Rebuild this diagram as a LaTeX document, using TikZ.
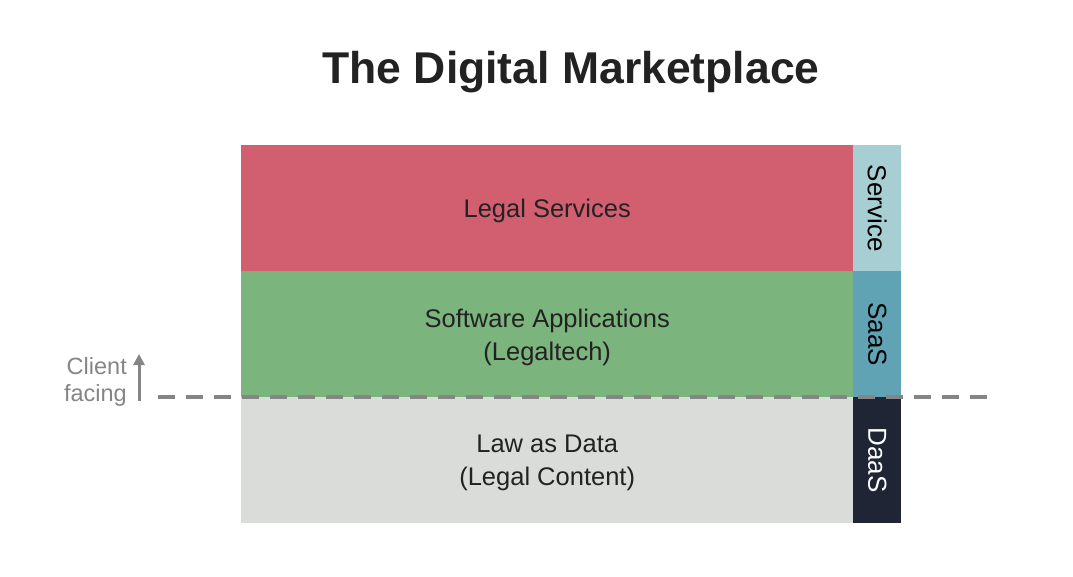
\documentclass[tikz,border=0pt]{standalone}
\usepackage{fontspec}
\setmainfont{Liberation Sans}
\usetikzlibrary{arrows.meta}
\definecolor{cred}{HTML}{D15F70}
\definecolor{cgreen}{HTML}{7BB47C}
\definecolor{cgrey}{HTML}{DADCDA}
\definecolor{clteal}{HTML}{A7CFD3}
\definecolor{cteal}{HTML}{5FA3B5}
\definecolor{cnavy}{HTML}{1F2535}
\definecolor{ctext}{HTML}{222222}
\definecolor{cline}{HTML}{858585}
\tikzset{
  layer/.style={draw=none, minimum width=612pt, minimum height=126pt, inner sep=0pt, anchor=north west},
  layerlab/.style={align=center, font=\fontsize{25.5}{33}\selectfont, text=ctext, yshift=-3pt},
  side/.style={draw=none, minimum width=48pt, minimum height=126pt, inner sep=0pt, anchor=north west},
  sidelab/.style={rotate=-90, font=\fontsize{26}{30}\selectfont},
}
\begin{document}
\begin{tikzpicture}[x=1pt,y=-1pt]
\useasboundingbox (0,0) rectangle (1073,576);
\node[font=\bfseries\fontsize{44.5}{50}\selectfont, text=ctext] (title) at (571,72) {The Digital Marketplace};
\node[layer, fill=cred] (svc) at (241,145) {};
\node[layer, fill=cgreen] (app) at (241,271) {};
\node[layer, fill=cgrey] (data) at (241,397) {};
\node[layerlab] (svct) at (svc.center) {Legal Services};
\node[layerlab] (appt) at (app.center) {Software Applications\\(Legaltech)};
\node[layerlab] (datat) at (data.center) {Law as Data\\(Legal Content)};
\node[side, fill=clteal] (s1) at (853,145) {};
\node[side, fill=cteal] (s2) at (853,271) {};
\node[side, fill=cnavy] (s3) at (853,397) {};
\node[sidelab, text=black] (s1t) at (s1.center) {Service};
\node[sidelab, text=black] (s2t) at (s2.center) {SaaS};
\node[sidelab, text=white] (s3t) at (s3.center) {DaaS};
\coordinate (dl) at (158,397);
\coordinate (dr) at (992,397);
\draw[cline, line width=3.5pt, dash pattern=on 17pt off 11pt] (dl) -- (dr);
\coordinate (a0) at (139,401);
\coordinate (a1) at (139,354);
\draw[cline, line width=3pt, -{Triangle[length=11pt,width=11pt]}] (a0) -- (a1);
\node[anchor=east, align=right, text=cline, font=\fontsize{23.5}{27}\selectfont, inner sep=0pt] (cf) at (127,382) {Client\\facing};
\end{tikzpicture}
\end{document}
